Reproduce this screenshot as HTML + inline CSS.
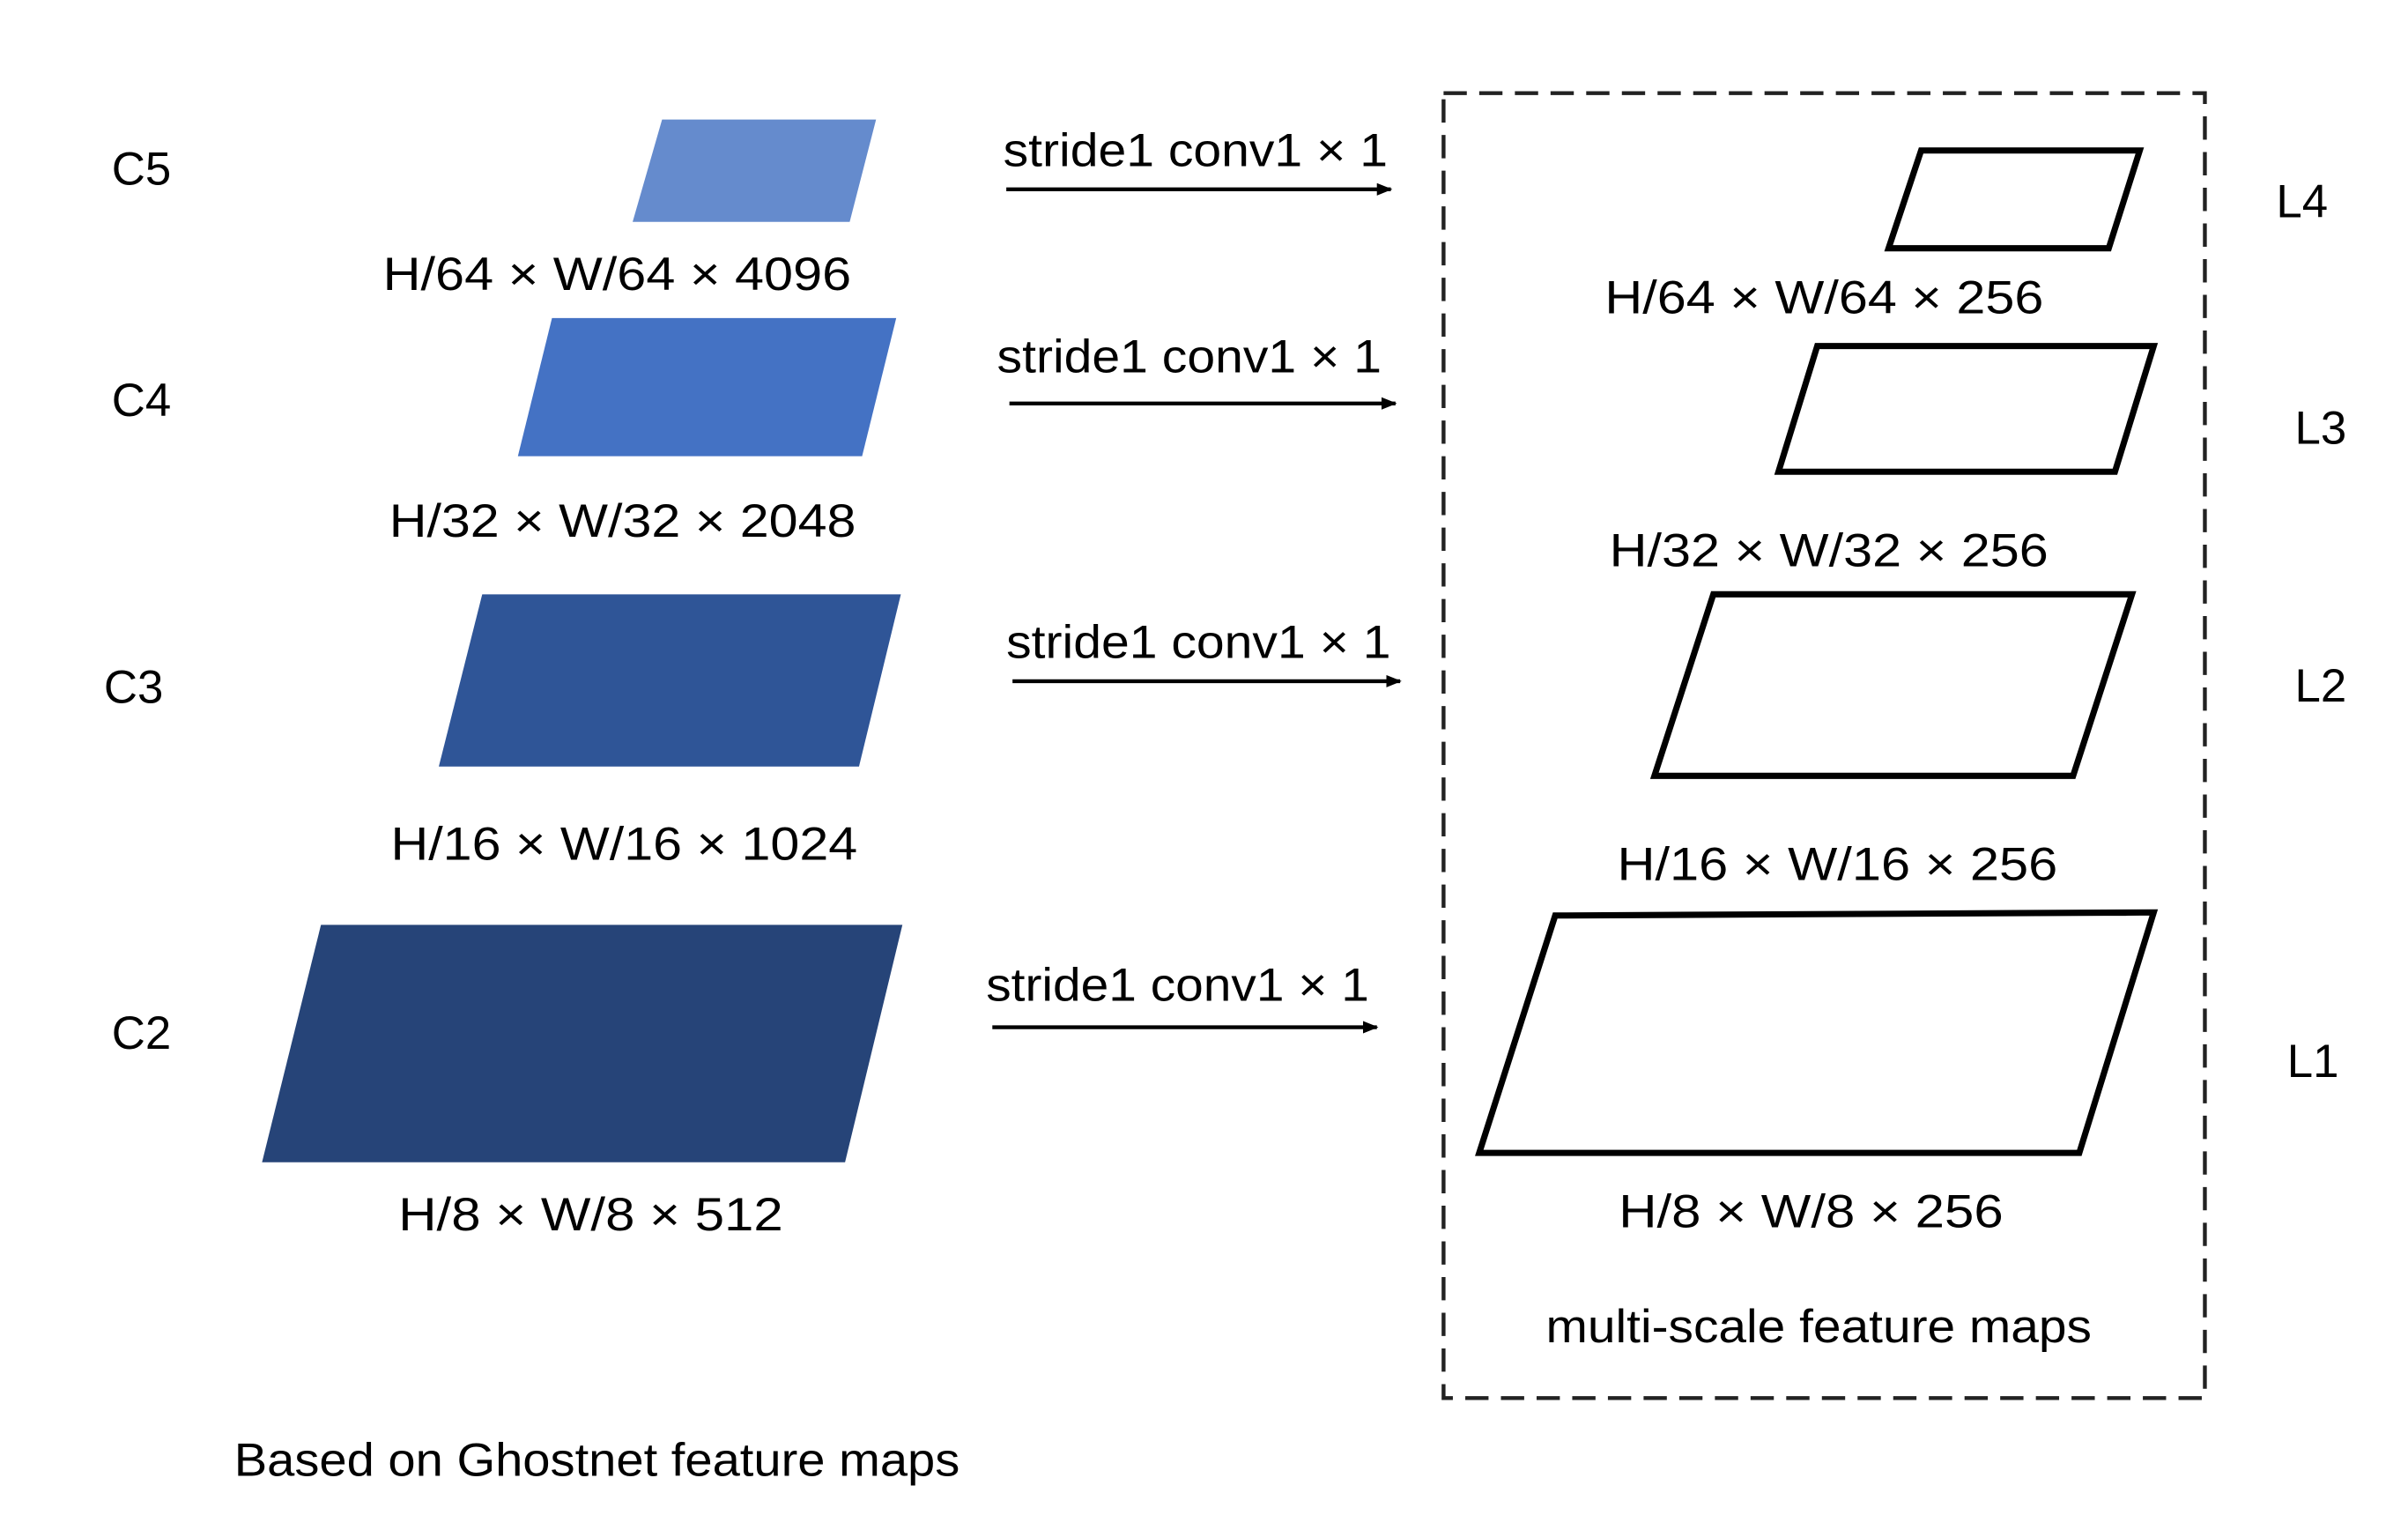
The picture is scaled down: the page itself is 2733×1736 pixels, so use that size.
<!DOCTYPE html>
<html><head><meta charset="utf-8"><style>html,body{margin:0;padding:0;background:#fff}svg{display:block}</style></head>
<body>
<svg width="2733" height="1736" viewBox="0 0 1553 986" preserveAspectRatio="none" xmlns="http://www.w3.org/2000/svg" font-family="Liberation Sans, sans-serif" font-size="30" fill="#000">
<defs><marker id="ah" markerWidth="10" markerHeight="8" refX="9" refY="4" orient="auto" markerUnits="userSpaceOnUse"><path d="M0,0 L10,4 L0,8 Z" fill="#000"/></marker></defs>
<rect width="1553" height="986" fill="#fff"/>
<polygon points="427,77 565,77 548,143 408,143" fill="#658bcd"/>
<polygon points="356,205 578,205 556,294 334,294" fill="#4472c4"/>
<polygon points="311,383 581,383 554,494 283,494" fill="#2f5597"/>
<polygon points="207,596 582,596 545,749 169,749" fill="#264478"/>
<text x="72" y="119">C5</text>
<text x="72" y="268">C4</text>
<text x="67" y="453">C3</text>
<text x="72" y="676">C2</text>
<text x="247" y="187" textLength="302" lengthAdjust="spacingAndGlyphs">H/64 × W/64 × 4096</text>
<text x="251" y="346" textLength="301" lengthAdjust="spacingAndGlyphs">H/32 × W/32 × 2048</text>
<text x="252" y="554" textLength="301" lengthAdjust="spacingAndGlyphs">H/16 × W/16 × 1024</text>
<text x="257" y="793" textLength="248" lengthAdjust="spacingAndGlyphs">H/8 × W/8 × 512</text>
<text x="647" y="107" textLength="248" lengthAdjust="spacingAndGlyphs">stride1 conv1 × 1</text>
<text x="643" y="240" textLength="248" lengthAdjust="spacingAndGlyphs">stride1 conv1 × 1</text>
<text x="649" y="424" textLength="248" lengthAdjust="spacingAndGlyphs">stride1 conv1 × 1</text>
<text x="636" y="645" textLength="247" lengthAdjust="spacingAndGlyphs">stride1 conv1 × 1</text>
<g stroke="#000" stroke-width="2.5" marker-end="url(#ah)">
<line x1="649" y1="122" x2="897" y2="122"/>
<line x1="651" y1="260" x2="900" y2="260"/>
<line x1="653" y1="439" x2="903" y2="439"/>
<line x1="640" y1="662" x2="888" y2="662"/>
</g>
<rect x="931" y="60" width="491" height="841" fill="none" stroke="#222" stroke-width="2.5" stroke-dasharray="15,8"/>
<g fill="none" stroke="#000" stroke-width="4" stroke-linejoin="miter">
<polygon points="1239,97 1380,97 1360,160 1218,160"/>
<polygon points="1172,223 1389,223 1364,304 1147,304"/>
<polygon points="1105,383 1375,383 1337,500 1067,500"/>
<polygon points="1003,590 1389,588 1341,743 954,743"/>
</g>
<text x="1035" y="202" textLength="283" lengthAdjust="spacingAndGlyphs">H/64 × W/64 × 256</text>
<text x="1038" y="365" textLength="283" lengthAdjust="spacingAndGlyphs">H/32 × W/32 × 256</text>
<text x="1043" y="567" textLength="284" lengthAdjust="spacingAndGlyphs">H/16 × W/16 × 256</text>
<text x="1044" y="791" textLength="248" lengthAdjust="spacingAndGlyphs">H/8 × W/8 × 256</text>
<text x="997" y="865" textLength="352" lengthAdjust="spacingAndGlyphs">multi-scale feature maps</text>
<text x="1468" y="140">L4</text>
<text x="1480" y="286">L3</text>
<text x="1480" y="452">L2</text>
<text x="1475" y="694">L1</text>
<text x="151" y="951" textLength="468" lengthAdjust="spacingAndGlyphs">Based on Ghostnet feature maps</text>
</svg>
</body></html>
